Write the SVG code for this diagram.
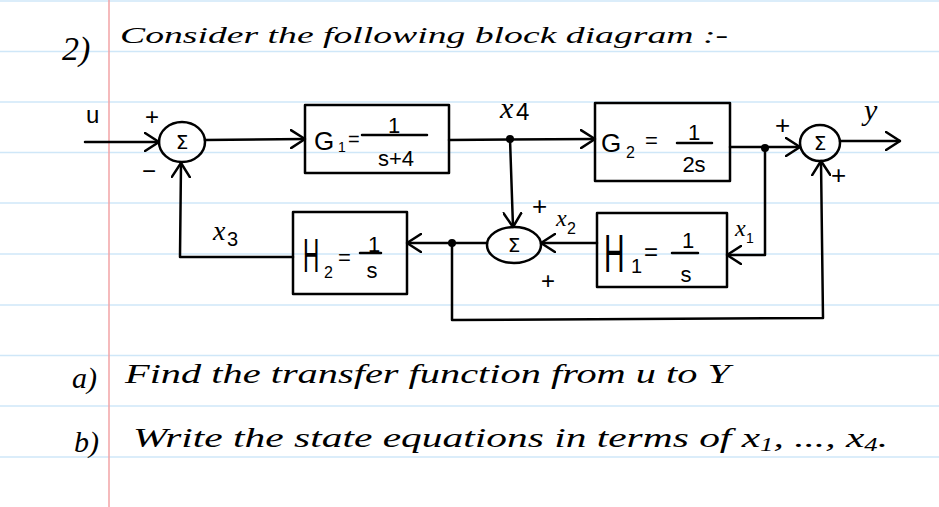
<svg xmlns="http://www.w3.org/2000/svg" width="939" height="507" viewBox="0 0 939 507">
<defs>
<style>
.rule{stroke:#cfe7f8;stroke-width:1.5}
.margin{stroke:#f2a3a6;stroke-width:1.5}
.blk{fill:none;stroke:#000;stroke-width:2.5;stroke-linejoin:round;stroke-linecap:round}
.con{fill:none;stroke:#000;stroke-width:2.5;stroke-linejoin:round;stroke-linecap:round}
.m{font-family:"Liberation Sans","DejaVu Sans",sans-serif;fill:#000}
.hw{font-family:"Liberation Serif","DejaVu Serif",serif;font-style:italic;fill:#000}
.sig{font-family:"DejaVu Sans",sans-serif;font-size:20px;text-anchor:middle;fill:#000}
.mid{text-anchor:middle}
</style>
<marker id="ah" viewBox="0 0 16 20" refX="15" refY="10" markerWidth="16" markerHeight="20" markerUnits="userSpaceOnUse" orient="auto">
<path d="M1,1 L15,10 L1,19" fill="none" stroke="#000" stroke-width="2.5" stroke-linecap="round" stroke-linejoin="round"/>
</marker>
</defs>
<rect width="939" height="507" fill="#fff"/>
<g id="paper">
<line class="rule" x1="0" y1="1" x2="939" y2="1"/>
<line class="rule" x1="0" y1="51.5" x2="939" y2="51.5"/>
<line class="rule" x1="0" y1="102" x2="939" y2="102"/>
<line class="rule" x1="0" y1="152.5" x2="939" y2="152.5"/>
<line class="rule" x1="0" y1="203" x2="939" y2="203"/>
<line class="rule" x1="0" y1="254" x2="939" y2="254"/>
<line class="rule" x1="0" y1="305" x2="939" y2="305"/>
<line class="rule" x1="0" y1="355.5" x2="939" y2="355.5"/>
<line class="rule" x1="0" y1="406" x2="939" y2="406"/>
<line class="rule" x1="0" y1="457" x2="939" y2="457"/>
<line class="margin" x1="109" y1="0" x2="109" y2="507"/>
</g>
<g id="title">
<text class="hw" x="62" y="60" font-size="34">2)</text>
<text class="hw" x="120" y="43" font-size="24" textLength="608" lengthAdjust="spacingAndGlyphs">Consider the following block diagram :-</text>
</g>
<g id="connectors">
<path class="con" d="M85,142 L159,142" marker-end="url(#ah)"/>
<path class="con" d="M205,140 L305,139" marker-end="url(#ah)"/>
<path class="con" d="M449,140 L595,139" marker-end="url(#ah)"/>
<path class="con" d="M730,147 L800,147" marker-end="url(#ah)"/>
<path class="con" d="M840,141 L900,141" marker-end="url(#ah)"/>
<path class="con" d="M510,139 L513,227" marker-end="url(#ah)"/>
<path class="con" d="M487,243 L407,243" marker-end="url(#ah)"/>
<path class="con" d="M293,257 L180,257 L181,163" marker-end="url(#ah)"/>
<path class="con" d="M765,148 L765,255 L727,255" marker-end="url(#ah)"/>
<path class="con" d="M597,243 L541,243" marker-end="url(#ah)"/>
<path class="con" d="M452,243 L452,320 L823,318 L821,161" marker-end="url(#ah)"/>
<circle cx="510" cy="139" r="4" fill="#000"/>
<circle cx="765" cy="148" r="4" fill="#000"/>
<circle cx="452" cy="243" r="4" fill="#000"/>
</g>
<g id="sum1">
<ellipse class="blk" cx="182" cy="142" rx="23" ry="20"/>
<text class="sig" x="182" y="149">Σ</text>
</g>
<g id="G1">
<rect class="blk" x="305" y="105" width="144" height="68"/>
<text class="m" x="314" y="150" font-size="26">G</text>
<text class="m" x="338" y="152" font-size="14">1</text>
<text class="m" x="348" y="146" font-size="20">=</text>
<text class="m mid" x="394" y="133" font-size="22">1</text>
<line class="blk" x1="362" y1="135" x2="427" y2="135"/>
<text class="m mid" x="396" y="166" font-size="22">s+4</text>
</g>
<g id="G2">
<rect class="blk" x="595" y="103" width="135" height="78"/>
<text class="m" x="601" y="152" font-size="26">G</text>
<text class="m" x="626" y="158" font-size="16">2</text>
<text class="m" x="645" y="148" font-size="22">=</text>
<text class="m mid" x="694" y="140" font-size="22">1</text>
<line class="blk" x1="677" y1="143" x2="712" y2="143"/>
<text class="m mid" x="694" y="172" font-size="22">2s</text>
</g>
<g id="sum3">
<ellipse class="blk" cx="820" cy="143" rx="20" ry="18"/>
<text class="sig" x="820" y="150">Σ</text>
</g>
<g id="H2">
<rect class="blk" x="293" y="212" width="114" height="82"/>
<text class="m" font-size="30" transform="translate(303,272) scale(0.75,1.6)">H</text>
<text class="m" x="324" y="278" font-size="16">2</text>
<text class="m" x="338" y="265" font-size="22">=</text>
<text class="m mid" x="374" y="252" font-size="22">1</text>
<line class="blk" x1="360" y1="253" x2="381" y2="253"/>
<text class="m mid" x="372" y="278" font-size="22">s</text>
</g>
<g id="sum2">
<ellipse class="blk" cx="514" cy="245" rx="27" ry="18"/>
<text class="sig" x="514" y="252">Σ</text>
</g>
<g id="H1">
<rect class="blk" x="597" y="213" width="130" height="74"/>
<text class="m" font-size="30" transform="translate(604,272) scale(0.95,1.8)">H</text>
<text class="m" x="631" y="273" font-size="20">1</text>
<text class="m" x="644" y="260" font-size="24">=</text>
<text class="m mid" x="688" y="248" font-size="22">1</text>
<line class="blk" x1="672" y1="253" x2="698" y2="253"/>
<text class="m mid" x="686" y="282" font-size="22">s</text>
</g>
<g id="labels">
<text class="m" x="86" y="123" font-size="24">u</text>
<text class="m" x="145" y="125" font-size="24">+</text>
<text class="m" x="142" y="179" font-size="24">−</text>
<text class="hw" x="500" y="118" font-size="30">x</text>
<text class="m" x="516" y="120" font-size="24">4</text>
<text class="m" x="775" y="134" font-size="26">+</text>
<text class="hw" x="864" y="120" font-size="30">y</text>
<text class="m" x="831" y="184" font-size="26">+</text>
<text class="hw" x="213" y="240" font-size="28">x</text>
<text class="m" x="227" y="246" font-size="20">3</text>
<text class="m" x="532" y="215" font-size="26">+</text>
<text class="hw" x="556" y="226" font-size="24">x</text>
<text class="m" x="567" y="234" font-size="16">2</text>
<text class="m" x="541" y="289" font-size="24">+</text>
<text class="hw" x="735" y="236" font-size="24">x</text>
<text class="m" x="746" y="243" font-size="14">1</text>
</g>
<g id="questions">
<text class="hw" x="72" y="388" font-size="30">a)</text>
<text class="hw" x="125" y="383" font-size="28" textLength="605" lengthAdjust="spacingAndGlyphs">Find the transfer function from u to Y</text>
<text class="hw" x="74" y="452" font-size="30">b)</text>
<text class="hw" x="133" y="447" font-size="28" textLength="755" lengthAdjust="spacingAndGlyphs">Write the state equations in terms of x<tspan font-size="18" dy="4">1</tspan><tspan dy="-4">, ..., x</tspan><tspan font-size="18" dy="4">4</tspan><tspan dy="-4">.</tspan></text>
</g>
</svg>
